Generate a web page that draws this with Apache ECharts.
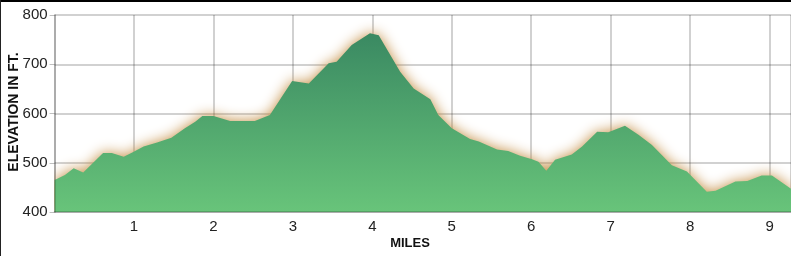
<!DOCTYPE html>
<html>
<head>
<meta charset="utf-8">
<script src="https://cdn.jsdelivr.net/npm/echarts@6/dist/echarts.min.js"></script>
<style>
html,body{margin:0;padding:0;background:#fff;}
#chart{width:791px;height:256px;}
</style>
</head>
<body>
<div id="chart"></div>
<script>
var miles = [0, 0.13, 0.24, 0.36, 0.61, 0.72, 0.87, 0.99, 1.12, 1.29, 1.47, 1.64, 1.77, 1.86, 2.0, 2.21, 2.52, 2.71, 2.99, 3.2, 3.45, 3.55, 3.74, 3.97, 4.08, 4.35, 4.52, 4.73, 4.83, 5.0, 5.23, 5.34, 5.57, 5.71, 5.86, 6.01, 6.09, 6.19, 6.3, 6.51, 6.64, 6.83, 6.97, 7.18, 7.35, 7.52, 7.77, 7.96, 8.21, 8.32, 8.57, 8.72, 8.9, 9.03, 9.27];
var elevation = [465, 475, 489, 480, 520, 520, 512, 522, 533, 541, 551, 570, 583, 595, 595, 585, 585, 597, 666, 661, 702, 705, 739, 763, 759, 685, 651, 629, 597, 570, 548, 543, 527, 524, 514, 507, 502, 484, 506, 517, 533, 563, 562, 575, 557, 536, 495, 482, 441, 443, 462, 463, 474, 474, 447];
var xTicks = [1, 2, 3, 4, 5, 6, 7, 8, 9];
var yTicks = [400, 500, 600, 700, 800];
var xTitle = 'MILES';
var yTitle = 'ELEVATION IN FT.';

var points = miles.map(function (m, i) { return [m, elevation[i]]; });
var chart = echarts.init(document.getElementById('chart'), null, {renderer: 'canvas'});
var font = '"Liberation Sans", Arial, sans-serif';
chart.setOption({
  animation: false,
  grid: {left: 54.6, right: 0, top: 15, bottom: 44, containLabel: false, outerBoundsMode: 'none'},
  xAxis: {
    type: 'value', min: 0, max: 9.27, interval: 1, z: 3,
    axisLine: {show: true, lineStyle: {color: 'rgba(0,0,0,0.18)', width: 2}},
    axisTick: {show: false},
    splitLine: {show: true, lineStyle: {color: 'rgba(0,0,0,0.18)', width: 2}},
    axisLabel: {
      margin: 7, color: '#222', fontSize: 15, fontFamily: font,
      formatter: function (v) { return xTicks.indexOf(v) >= 0 ? String(v) : ''; }
    }
  },
  yAxis: {
    type: 'value', min: yTicks[0], max: yTicks[yTicks.length - 1], interval: 100, z: 3,
    axisLine: {show: true, lineStyle: {color: 'rgba(0,0,0,0.18)', width: 2}},
    axisTick: {show: true, length: 5, lineStyle: {color: 'rgba(0,0,0,0.25)', width: 1}},
    splitLine: {show: true, lineStyle: {color: 'rgba(0,0,0,0.18)', width: 2}},
    axisLabel: {margin: 7, color: '#222', fontSize: 15, fontFamily: font}
  },
  graphic: [
    {type: 'text', x: 410, y: 243, style: {text: xTitle, font: 'bold 13px ' + font, fill: '#111', align: 'center', verticalAlign: 'middle'}},
    {type: 'text', x: 14, y: 112, rotation: Math.PI / 2, style: {text: yTitle, font: 'bold 14px ' + font, fill: '#111', align: 'center', verticalAlign: 'middle'}},
    {type: 'rect', shape: {x: 0, y: 0, width: 791, height: 2}, style: {fill: '#000'}},
    {type: 'rect', shape: {x: 0, y: 0, width: 1, height: 256}, style: {fill: '#222'}}
  ],
  series: [{
    type: 'line',
    data: points,
    showSymbol: false,
    smooth: false,
    clip: true,
    lineStyle: {width: 0},
    areaStyle: {
      origin: 'start',
      color: new echarts.graphic.LinearGradient(0, 0, 0, 1, [
        {offset: 0, color: '#3a8962'},
        {offset: 1, color: '#68c47a'}
      ]),
      opacity: 1,
      shadowColor: 'rgba(195,140,65,1)',
      shadowBlur: 14
    }
  }]
});
</script>
</body>
</html>
